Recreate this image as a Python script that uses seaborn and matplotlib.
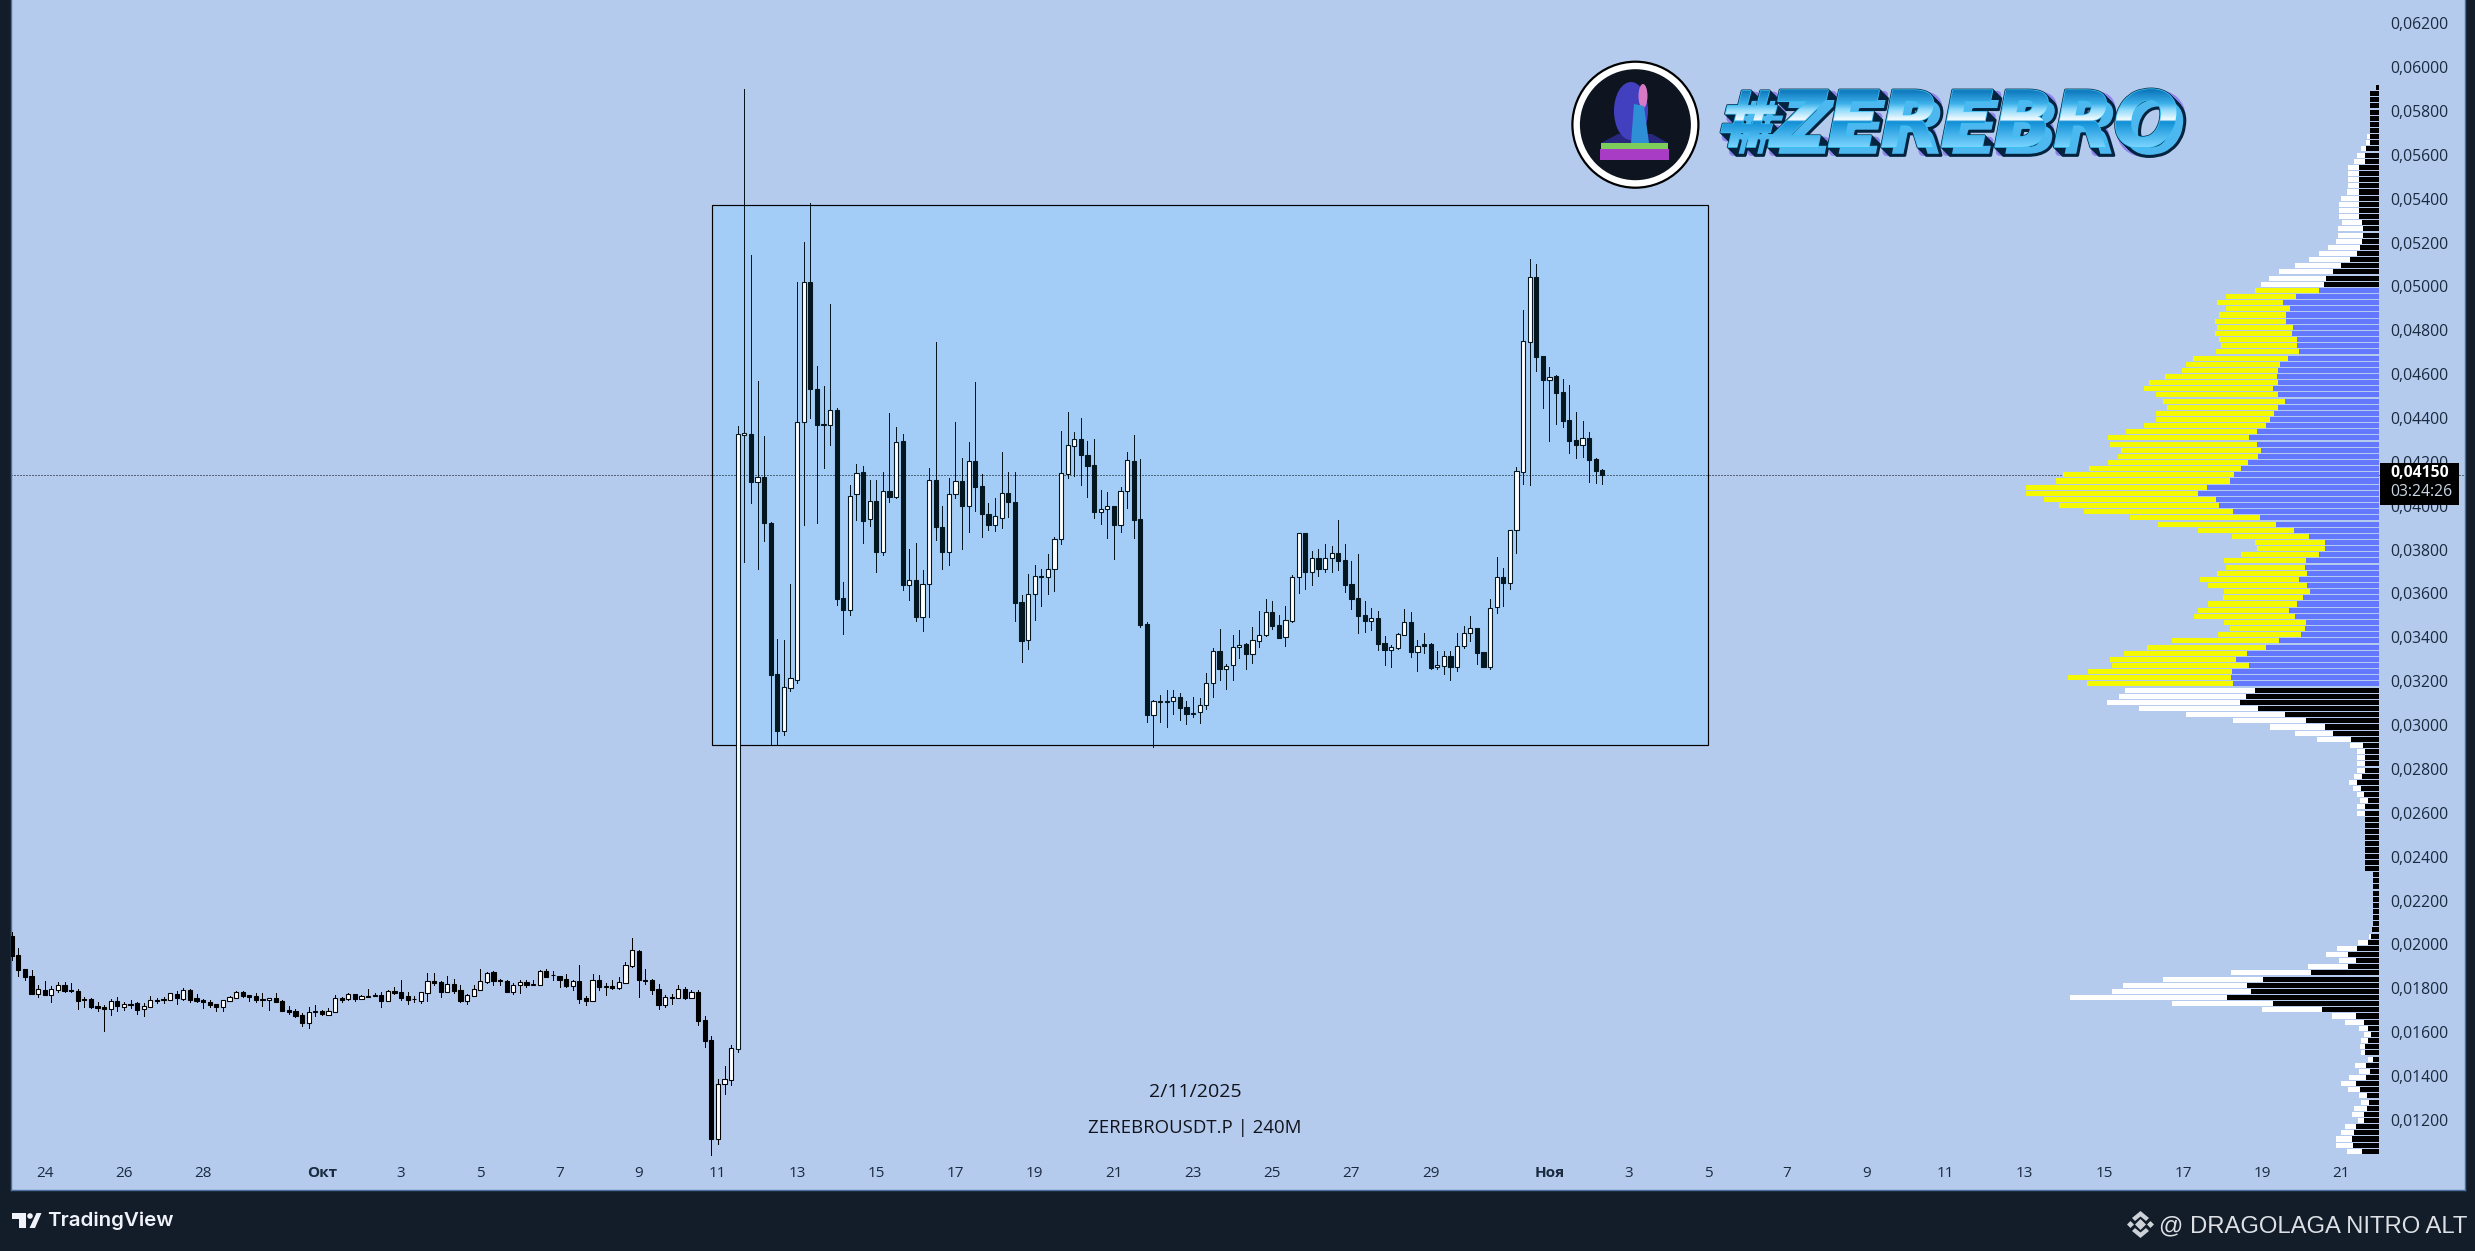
import numpy as np
import pandas as pd
import matplotlib
matplotlib.use("Agg")
import matplotlib.pyplot as plt
import matplotlib.patheffects as pe
import seaborn as sns
from matplotlib.colors import LinearSegmentedColormap
from matplotlib.font_manager import FontProperties
from matplotlib.patches import Circle, Ellipse, Polygon, Rectangle
from matplotlib.textpath import TextPath
from matplotlib.transforms import Affine2D

# --- 1. Data ---
# 240M candles, prices in 1e-5 USDT, first candle is 5 bars before 24 Sep 00:00
OPENS = [
    2038, 1952, 1888, 1856, 1774, 1792, 1771, 1794, 1815, 1791,
    1788, 1750, 1751, 1719, 1715, 1707, 1742, 1715, 1728, 1733,
    1704, 1716, 1747, 1747, 1748, 1774, 1751, 1792, 1756, 1747,
    1737, 1727, 1716, 1744, 1757, 1783, 1768, 1765, 1747, 1745,
    1756, 1742, 1701, 1695, 1678, 1643, 1693, 1695, 1680, 1693,
    1756, 1750, 1772, 1753, 1762, 1766, 1768, 1744, 1788, 1783,
    1765, 1750, 1744, 1780, 1833, 1829, 1785, 1818, 1792, 1744,
    1766, 1794, 1830, 1874, 1835, 1833, 1783, 1813, 1829, 1817,
    1817, 1877, 1859, 1855, 1841, 1812, 1832, 1756, 1744, 1836,
    1807, 1810, 1803, 1826, 1903, 1970, 1835, 1838, 1797, 1725,
    1757, 1757, 1795, 1757, 1783, 1655, 1564, 1113, 1365, 1383,
    1525, 4321, 4329, 4107, 4129, 3922, 3232, 2975, 3171, 3207,
    4380, 5021, 4530, 4369, 4369, 4435, 3578, 3523, 4052, 4152,
    3938, 4023, 3789, 4066, 4042, 4294, 3637, 3663, 3494, 3645,
    4119, 3901, 3789, 4052, 4111, 4001, 4203, 4089, 3964, 3914,
    3946, 4060, 4015, 3559, 3386, 3596, 3682, 3673, 3710, 3850,
    4146, 4274, 4306, 4233, 4184, 3973, 3987, 3997, 3914, 4066,
    4203, 3938, 3460, 3047, 3106, 3106, 3108, 3130, 3081, 3049,
    3059, 3093, 3193, 3336, 3254, 3273, 3354, 3369, 3322, 3385,
    3413, 3514, 3455, 3400, 3476, 3676, 3875, 3699, 3761, 3712,
    3763, 3784, 3751, 3642, 3579, 3501, 3476, 3488, 3374, 3344,
    3352, 3413, 3468, 3335, 3369, 3369, 3263, 3271, 3315, 3266,
    3361, 3418, 3444, 3331, 3266, 3540, 3673, 3649, 3891, 4155,
    4748, 5041, 4681, 4575, 4591, 4518, 4390, 4300, 4279, 4310, 4212, 4162,
]
CLOSES = [
    1947, 1883, 1851, 1774, 1795, 1769, 1795, 1813, 1788, 1788,
    1742, 1747, 1715, 1710, 1706, 1740, 1719, 1727, 1725, 1701,
    1718, 1745, 1742, 1750, 1777, 1756, 1791, 1747, 1741, 1739,
    1724, 1715, 1745, 1759, 1782, 1765, 1760, 1747, 1750, 1754,
    1737, 1696, 1692, 1674, 1642, 1690, 1696, 1683, 1695, 1754,
    1747, 1772, 1751, 1763, 1765, 1769, 1742, 1786, 1779, 1756,
    1747, 1753, 1781, 1832, 1824, 1783, 1818, 1788, 1742, 1769,
    1795, 1832, 1868, 1833, 1838, 1783, 1813, 1827, 1817, 1820,
    1877, 1851, 1862, 1838, 1810, 1832, 1751, 1742, 1836, 1806,
    1810, 1801, 1827, 1905, 1973, 1838, 1838, 1792, 1724, 1759,
    1760, 1795, 1756, 1782, 1651, 1560, 1113, 1362, 1385, 1526,
    4327, 4331, 4109, 4129, 3920, 3228, 2973, 3173, 3214, 4384,
    5019, 4530, 4367, 4373, 4435, 3576, 3527, 4046, 4150, 3932,
    4023, 3789, 4066, 4042, 4292, 3637, 3663, 3492, 3645, 4119,
    3903, 3789, 4052, 4111, 4001, 4203, 4087, 3964, 3914, 3952,
    4060, 4015, 3557, 3384, 3596, 3682, 3673, 3710, 3850, 4148,
    4276, 4306, 4231, 4182, 3973, 3987, 3997, 3914, 4066, 4207,
    3936, 3456, 3047, 3108, 3110, 3110, 3128, 3079, 3049, 3057,
    3091, 3193, 3336, 3258, 3271, 3356, 3367, 3322, 3387, 3413,
    3514, 3453, 3398, 3478, 3673, 3875, 3698, 3761, 3712, 3761,
    3784, 3748, 3639, 3576, 3497, 3475, 3488, 3370, 3343, 3354,
    3414, 3468, 3333, 3362, 3361, 3261, 3273, 3313, 3265, 3359,
    3418, 3442, 3330, 3265, 3536, 3673, 3649, 3891, 4157, 4749,
    5041, 4676, 4575, 4585, 4515, 4388, 4295, 4277, 4308, 4209, 4158, 4142,
]
HIGHS = [
    2058, 1984, 1888, 1883, 1815, 1833, 1810, 1829, 1829, 1824,
    1795, 1760, 1756, 1737, 1724, 1751, 1760, 1737, 1747, 1737,
    1733, 1765, 1754, 1760, 1777, 1788, 1801, 1797, 1774, 1751,
    1747, 1728, 1747, 1765, 1788, 1788, 1769, 1779, 1779, 1756,
    1779, 1747, 1719, 1706, 1687, 1715, 1724, 1701, 1710, 1769,
    1760, 1779, 1774, 1769, 1797, 1779, 1783, 1792, 1806, 1838,
    1783, 1765, 1781, 1870, 1870, 1833, 1856, 1842, 1815, 1774,
    1815, 1888, 1874, 1879, 1842, 1838, 1824, 1838, 1838, 1838,
    1883, 1888, 1879, 1856, 1865, 1838, 1906, 1765, 1865, 1861,
    1824, 1838, 1852, 1920, 2029, 1975, 1888, 1842, 1820, 1769,
    1774, 1815, 1806, 1792, 1792, 1674, 1582, 1386, 1446, 1541,
    4364, 5900, 5141, 4571, 4319, 3926, 3391, 3386, 3641, 5021,
    5202, 5381, 4638, 4546, 4919, 4445, 3651, 4095, 4192, 4182,
    4117, 4117, 4154, 4422, 4359, 4327, 3804, 3830, 3706, 4172,
    4746, 3999, 4127, 4384, 4217, 4290, 4565, 4144, 4011, 4036,
    4245, 4154, 4154, 3592, 3690, 3728, 3710, 3779, 3859, 4341,
    4428, 4337, 4400, 4296, 4306, 4074, 4062, 4001, 4085, 4243,
    4323, 4215, 3472, 3114, 3136, 3159, 3159, 3148, 3108, 3130,
    3122, 3236, 3350, 3437, 3279, 3411, 3434, 3375, 3447, 3520,
    3574, 3566, 3502, 3543, 3685, 3875, 3875, 3794, 3802, 3825,
    3816, 3935, 3825, 3748, 3779, 3566, 3533, 3520, 3406, 3367,
    3418, 3528, 3515, 3388, 3419, 3374, 3339, 3338, 3338, 3419,
    3452, 3497, 3444, 3335, 3574, 3766, 3717, 3891, 4176, 4893,
    5125, 5101, 4683, 4632, 4596, 4577, 4551, 4427, 4386, 4336, 4219, 4166,
]
LOWS = [
    1929, 1856, 1838, 1774, 1760, 1769, 1737, 1783, 1783, 1783,
    1706, 1715, 1710, 1696, 1605, 1678, 1696, 1701, 1710, 1683,
    1674, 1715, 1733, 1733, 1748, 1728, 1747, 1737, 1737, 1710,
    1715, 1696, 1696, 1744, 1756, 1760, 1742, 1737, 1719, 1701,
    1737, 1696, 1683, 1669, 1628, 1619, 1674, 1678, 1680, 1693,
    1737, 1747, 1742, 1751, 1760, 1765, 1715, 1742, 1774, 1747,
    1728, 1737, 1733, 1742, 1815, 1760, 1783, 1779, 1737, 1728,
    1765, 1792, 1824, 1815, 1815, 1783, 1774, 1779, 1806, 1817,
    1817, 1851, 1838, 1806, 1806, 1792, 1733, 1724, 1742, 1792,
    1769, 1797, 1797, 1826, 1897, 1760, 1820, 1774, 1706, 1715,
    1728, 1756, 1751, 1756, 1633, 1532, 1040, 1090, 1318, 1359,
    1510, 3745, 4013, 3712, 3840, 2914, 2908, 2953, 3156, 3193,
    3912, 4400, 3920, 4174, 4278, 3547, 3417, 3500, 3936, 3830,
    3907, 3698, 3777, 4017, 4036, 3616, 3570, 3474, 3429, 3492,
    3844, 3712, 3730, 4036, 3804, 3881, 3977, 3859, 3889, 3885,
    3899, 3948, 3474, 3289, 3348, 3480, 3543, 3598, 3612, 3824,
    4127, 4135, 4095, 4040, 3944, 3918, 3852, 3757, 3881, 3989,
    3852, 3448, 3014, 2902, 3014, 2992, 3051, 3024, 3006, 3036,
    3010, 3073, 3130, 3205, 3165, 3205, 3307, 3256, 3284, 3356,
    3408, 3436, 3395, 3361, 3471, 3603, 3621, 3639, 3680, 3698,
    3698, 3707, 3606, 3530, 3421, 3424, 3434, 3343, 3274, 3265,
    3349, 3411, 3310, 3247, 3330, 3256, 3258, 3234, 3206, 3247,
    3352, 3383, 3279, 3265, 3256, 3512, 3543, 3621, 3786, 4100,
    4095, 4614, 4447, 4295, 4373, 4359, 4241, 4219, 4220, 4108, 4105, 4100,
]
PRICE_UNIT = 1e-5
BARS_PER_DAY = 6
BARS_BEFORE_START = 5
FIRST_INSIDE_BOX = 110  # candles from here on sit in the blue box

# volume profile, top row to bottom row, relative volume
VOL_DOWN = [
    8, 27, 27, 27, 27, 27, 27, 27, 27, 27, 39, 42, 42, 60, 60, 60, 60, 60, 60, 60,
    60, 60, 51, 49, 49, 51, 57, 66, 87, 114, 138, 159, 165,
    180, 249, 288, 267, 279, 279, 258, 261, 246, 246,
    240, 273, 297, 303, 306, 303, 318, 303, 282, 303,
    315, 327, 339, 366, 390, 366, 354, 363, 393, 414,
    435, 447, 516, 543, 489, 480, 438, 357, 309, 255,
    210, 162, 162, 180, 219, 222, 216, 240, 216, 207,
    228, 246, 270, 252, 219, 222, 234, 300, 339, 396, 429, 390, 441, 444, 438,
    372, 399, 417, 363, 282, 219, 162, 138, 84, 48,
    42, 42, 42, 42, 51, 66, 54, 45, 33, 42,
    42, 42, 42, 42, 42, 42, 42, 42, 42, 42,
    18, 18, 18, 18, 18, 18, 18, 18, 18, 21,
    24, 33, 66, 93, 69, 93, 204, 348, 396, 384,
    456, 318, 171, 69, 45, 33, 24, 33, 41, 42,
    18, 39, 27, 39, 69, 57, 36, 30, 36, 45,
    45, 69, 75, 81, 78, 51,
]
VOL_UP = [
    0, 0, 0, 0, 0, 0, 0, 0, 8, 12, 15, 24, 33, 33, 33, 33, 33, 36, 54, 60,
    60, 60, 60, 74, 74, 78, 96, 114, 123, 138, 162, 171, 189,
    192, 210, 198, 192, 201, 213, 228, 231, 234, 228,
    249, 285, 282, 288, 336, 387, 387, 366, 366, 333,
    354, 342, 366, 393, 423, 441, 420, 420, 420, 456,
    513, 522, 543, 516, 516, 480, 447, 390, 354, 288,
    231, 210, 204, 234, 246, 237, 270, 297, 297, 258,
    240, 267, 273, 303, 246, 225, 249, 321, 357, 369, 378, 411, 432, 489, 438,
    390, 381, 399, 357, 297, 219, 165, 114, 102, 39,
    24, 24, 24, 24, 24, 24, 24, 21, 24, 24,
    24, 0, 0, 0, 0, 0, 0, 0, 0, 0,
    0, 0, 0, 0, 0, 0, 0, 0, 0, 0,
    6, 30, 60, 66, 51, 120, 240, 300, 372, 417,
    471, 303, 180, 72, 57, 27, 21, 21, 16, 12,
    15, 33, 33, 51, 45, 36, 24, 24, 39, 36,
    18, 33, 39, 48, 51, 45,
]
PROFILE_TOP = 0.05907
PROFILE_STEP = 0.00028035
VALUE_AREA = (0.0317, 0.0500)

# days after 24 Sep
TICK_DAYS = [0, 2, 4, 7, 9, 11, 13, 15, 17, 19, 21, 23, 25, 27, 29, 31, 33, 35,
             38, 40, 42, 44, 46, 48, 50, 52, 54, 56, 58]
TICK_LABELS = ["24", "26", "28", "Окт", "3", "5", "7", "9", "11", "13", "15", "17",
               "19", "21", "23", "25", "27", "29", "Ноя", "3", "5", "7", "9", "11",
               "13", "15", "17", "19", "21"]
PRICE_TICKS = [0.012, 0.014, 0.016, 0.018, 0.020, 0.022, 0.024, 0.026, 0.028,
               0.030, 0.032, 0.034, 0.036, 0.038, 0.040, 0.042, 0.044, 0.046,
               0.048, 0.050, 0.052, 0.054, 0.056, 0.058, 0.060, 0.062]
BOX_DAYS = (16.84, 41.99)
BOX_PRICES = (0.02907, 0.05370)

# --- 2. Style ---
W, H = 2475, 1251
PANE_L, PANE_R, PANE_B = 11, 2465, 1190
BG = "#B5CBED"
DARK = "#131C29"
BOX = "#A3CDF6"
INK = "#1A2A3F"

sns.set_theme(style="white")
plt.rcParams["font.family"] = ["Open Sans", "DejaVu Sans"]

fig = plt.figure(figsize=(W / 100, H / 100), dpi=100, facecolor=DARK)
ax = fig.add_axes([PANE_L / W, (H - PANE_B) / H, (PANE_R - PANE_L) / W, PANE_B / H])
ax.set_facecolor(BG)

# --- 3. Candles ---
opens = np.array(OPENS) * PRICE_UNIT
closes = np.array(CLOSES) * PRICE_UNIT
highs = np.array(HIGHS) * PRICE_UNIT
lows = np.array(LOWS) * PRICE_UNIT
days = (np.arange(len(opens)) - BARS_BEFORE_START) / BARS_PER_DAY
inks = ["#000000" if i < FIRST_INSIDE_BOX else "#04161F" for i in range(len(opens))]
up = closes >= opens

ax.add_patch(Rectangle((BOX_DAYS[0], BOX_PRICES[0]), BOX_DAYS[1] - BOX_DAYS[0],
                       BOX_PRICES[1] - BOX_PRICES[0], facecolor=BOX,
                       edgecolor="black", linewidth=0.85, zorder=1))
ax.axhline(closes[-1], color="black", linewidth=0.72, linestyle=(0, (1, 2)), zorder=2)
ax.vlines(days, lows, highs, colors=inks, linewidth=0.55, zorder=3, antialiased=False)
ax.bar(days, np.abs(closes - opens), bottom=np.minimum(opens, closes), width=4.2 / 39.6,
       color=["white" if u else k for u, k in zip(up, inks)], edgecolor=inks,
       linewidth=0.78, zorder=4)

ax.set_xlim((PANE_L - 44.7) / 39.6, (PANE_R - 44.7) / 39.6)
ax.set_ylim(0.05 - (PANE_B - 286.4) / 21935, 0.05 + 286.4 / 21935)
ax.set_xticks(TICK_DAYS, TICK_LABELS)
ax.set_yticks(PRICE_TICKS, [f"{p:.5f}".replace(".", ",") for p in PRICE_TICKS])
ax.yaxis.tick_right()
ax.tick_params(axis="x", length=0, pad=-17.5, labelsize=11, colors=INK)
ax.tick_params(axis="y", length=0, pad=-54, labelsize=11.3, colors=INK)
for label in ax.get_xticklabels():
    if label.get_text() in ("Окт", "Ноя"):
        label.set_fontweight("bold")
ax.grid(False)
for side in ("left", "right", "bottom"):
    ax.spines[side].set_color("#4A6F9E")
    ax.spines[side].set_linewidth(1.0)
ax.spines["top"].set_visible(False)

# --- 4. Volume profile ---
total = np.array(VOL_DOWN) + np.array(VOL_UP)
prices = PROFILE_TOP - np.arange(len(total)) * PROFILE_STEP
in_area = (prices > VALUE_AREA[0]) & (prices < VALUE_AREA[1])
profile = pd.DataFrame({"price": prices, "total": total, "down": VOL_DOWN,
                        "zone": np.where(in_area, "area", "outer")})

vp = ax.twiny()
sns.barplot(data=profile, x="total", y="price", hue="zone", orient="y", native_scale=True,
            dodge=False, width=0.82, errorbar=None, legend=False, linewidth=0, saturation=1,
            palette={"area": "#F4F900", "outer": "white"}, ax=vp)
sns.barplot(data=profile, x="down", y="price", hue="zone", orient="y", native_scale=True,
            dodge=False, width=0.82, errorbar=None, legend=False, linewidth=0, saturation=1,
            palette={"area": "#6478FF", "outer": "black"}, ax=vp)
vp.set_xlim((2379 - PANE_L) * 3, (2379 - PANE_R) * 3)
vp.set_ylim(ax.get_ylim())
vp.axis("off")

# --- 5. Overlay: texts, logos, badge (in picture pixels) ---
deco = fig.add_axes([0, 0, 1, 1])
deco.set_xlim(0, W)
deco.set_ylim(H, 0)
deco.axis("off")

deco.text(1195, 1092, "2/11/2025", ha="center", va="center", fontsize=14, color="#10131C")
deco.text(1195, 1128, "ZEREBROUSDT.P | 240M", ha="center", va="center", fontsize=13.4,
          color="#10131C")

# last price badge
deco.add_patch(Rectangle((2380, 463), 79, 41.6, facecolor="black", edgecolor="none", zorder=5))
deco.text(2390, 473, "0,04150", ha="left", va="center", fontsize=11.3, fontweight="bold",
          color="white", zorder=6)
deco.text(2390, 492.5, "03:24:26", ha="left", va="center", fontsize=11.3, color="#C9D6E6",
          zorder=6)

# footer left
TV = "#F0F3FA"
deco.add_patch(Polygon([(12, 1213), (25.5, 1213), (25.5, 1228), (19, 1228), (19, 1219), (12, 1219)],
                       facecolor=TV, edgecolor="none"))
deco.add_patch(Circle((30, 1216), 2.8, facecolor=TV, edgecolor="none"))
deco.add_patch(Polygon([(36.5, 1213), (41.5, 1213), (35, 1228), (29.5, 1228)],
                       facecolor=TV, edgecolor="none"))
deco.text(47.5, 1221, "TradingView", ha="left", va="center", fontsize=14.8, fontweight="semibold",
          color=TV, family=["Inter", "DejaVu Sans"])

# footer right
GREY = "#CDD2D8"
for part in (
    [(2140.5, 1211), (2149, 1218), (2146, 1221), (2140.5, 1216.5), (2135, 1221), (2132, 1218)],
    [(2140.5, 1238), (2149, 1231), (2146, 1228), (2140.5, 1232.5), (2135, 1228), (2132, 1231)],
    [(2127, 1224.5), (2130.5, 1221), (2134, 1224.5), (2130.5, 1228)],
    [(2147, 1224.5), (2150.5, 1221), (2154, 1224.5), (2150.5, 1228)],
    [(2140.5, 1219), (2146, 1224.5), (2140.5, 1230), (2135, 1224.5)],
):
    deco.add_patch(Polygon(part, facecolor=GREY, edgecolor="none"))
deco.text(2467, 1226, "@ DRAGOLAGA NITRO ALT", ha="right", va="center", fontsize=17.2,
          color="#DDE1E6", family=["Liberation Sans", "DejaVu Sans"])

# round avatar
deco.add_patch(Circle((1635.4, 124.7), 63, facecolor="white", edgecolor="black", linewidth=1.6))
deco.add_patch(Circle((1635.4, 124.7), 55.5, facecolor="#0E1520", edgecolor="none"))
deco.add_patch(Polygon([(1601, 143), (1618, 134), (1652, 134), (1668, 143)],
                       facecolor="#27287E", edgecolor="none"))
deco.add_patch(Ellipse((1631, 111), 34, 58, facecolor="#4340C0", edgecolor="none"))
deco.add_patch(Ellipse((1643, 96), 9, 24, facecolor="#D77AC4", edgecolor="none"))
deco.add_patch(Polygon([(1634, 104), (1644, 106), (1649, 143), (1631, 143)],
                       facecolor="#2E8FD6", edgecolor="none"))
deco.add_patch(Rectangle((1600.5, 143), 67.5, 6, facecolor="#7CCD5A", edgecolor="none"))
deco.add_patch(Rectangle((1600, 149), 69, 11, facecolor="#A83CC4", edgecolor="none"))

# wordmark: real text for glow and shadow, gradient face clipped to the same outline
WORD = "#ZEREBRO"
word_x, word_base, word_px = 1716, 147, 78
shadow = [pe.Stroke(linewidth=6, foreground="#8F83EE", offset=(3.5, -3.5))]
shadow += [pe.Stroke(linewidth=2.2, foreground="#03233F", offset=(k, -k)) for k in range(7)]
shadow += [pe.Stroke(linewidth=1.2, foreground="#35C2F5"), pe.Normal()]
deco.text(word_x, word_base, WORD, ha="left", va="baseline", fontsize=word_px * 0.72,
          family="DejaVu Sans", fontweight="bold", fontstyle="oblique", color="#4DB8F0",
          path_effects=shadow, zorder=3)

grad = LinearSegmentedColormap.from_list("chrome", [
    (0.0, "#0872B8"), (0.25, "#3DB0EA"), (0.35, "#8BD8FB"), (0.53, "#F5FCFF"),
    (0.56, "#0F8FD6"), (1.0, "#7AD4FF")])
fp = FontProperties(family="DejaVu Sans", weight="bold", style="oblique")
outline = TextPath((0, 0), WORD, size=word_px, prop=fp)
to_screen = Affine2D().scale(1, -1).translate(word_x, word_base) + deco.transData
im = deco.imshow(np.linspace(0, 1, 256).reshape(-1, 1), cmap=grad, aspect="auto",
                 extent=(word_x - 5, word_x + 500, word_base, word_base - 58), zorder=4)
im.set_clip_path(outline, to_screen)
deco.set_xlim(0, W)
deco.set_ylim(H, 0)

fig.savefig("out.png", dpi=100, facecolor=DARK)
